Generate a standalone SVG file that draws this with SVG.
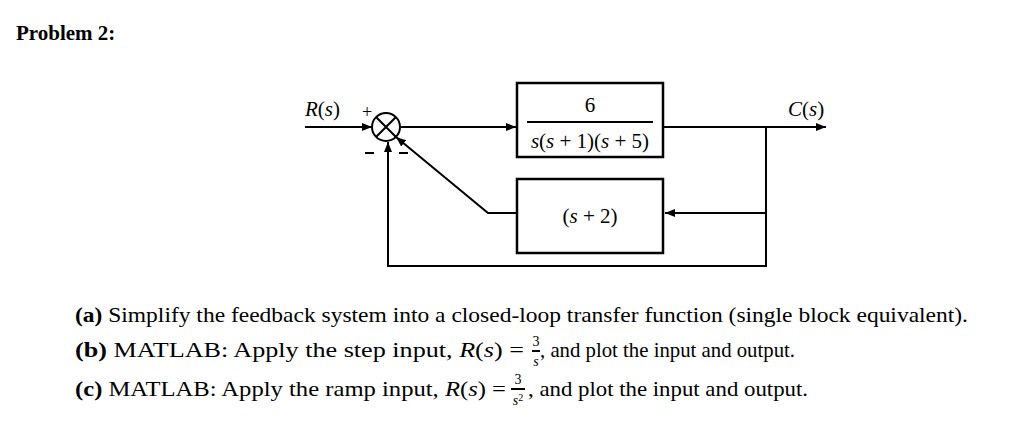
<svg xmlns="http://www.w3.org/2000/svg" width="1021" height="431" viewBox="0 0 1021 431">
<style>
.t{font-family:"Liberation Serif",serif;fill:#000}
.ln{stroke:#000;stroke-width:2;fill:none}
.bx{stroke:#000;stroke-width:2.5;fill:#fff}
</style>
<defs><marker id="a" viewBox="0 0 10 8" refX="10" refY="4" markerWidth="10" markerHeight="8" markerUnits="userSpaceOnUse" orient="auto"><path d="M0,0L10,4L0,8z"/></marker></defs>
<rect width="1021" height="431" fill="#fff"/>
<text class="t" x="16" y="40" font-size="21" font-weight="bold">Problem 2:</text>
<g id="connectors">
<path class="ln" d="M305,127H372" marker-end="url(#a)"/>
<path class="ln" d="M400,127H516" marker-end="url(#a)"/>
<path class="ln" d="M663,127H826" marker-end="url(#a)"/>
<path class="ln" d="M766,127V213H665" marker-end="url(#a)"/>
<path class="ln" d="M517,213H488L396,137" marker-end="url(#a)"/>
<path class="ln" d="M766,213V266H388V142" marker-end="url(#a)"/>
</g>
<g id="sum">
<circle cx="386" cy="127" r="14" fill="#fff" stroke="#000" stroke-width="2"/>
<path class="ln" d="M376,117L396,137M396,117L376,137" stroke-width="1.5"/>
<text class="t" x="362" y="118" font-size="18">+</text>
<path class="ln" d="M365,153H374M399,153H408" stroke-width="1.5"/>
</g>
<g id="g1">
<rect class="bx" x="517" y="83" width="146" height="74"/>
<text class="t" x="590" y="112" font-size="21" text-anchor="middle">6</text>
<path class="ln" d="M527,122H653" stroke-width="1.5"/>
<text class="t" x="590" y="148" font-size="21" text-anchor="middle"><tspan font-style="italic">s</tspan>(<tspan font-style="italic">s</tspan> + 1)(<tspan font-style="italic">s</tspan> + 5)</text>
</g>
<g id="h">
<rect class="bx" x="517" y="179" width="146" height="74"/>
<text class="t" x="590" y="223" font-size="21" text-anchor="middle">(<tspan font-style="italic">s</tspan> + 2)</text>
</g>
<text class="t" x="305" y="116" font-size="21" font-style="italic">R<tspan font-style="normal">(</tspan>s<tspan font-style="normal">)</tspan></text>
<text class="t" x="788" y="116" font-size="21" font-style="italic">C<tspan font-style="normal">(</tspan>s<tspan font-style="normal">)</tspan></text>
<text class="t" x="75" y="322" font-size="22" textLength="893" lengthAdjust="spacingAndGlyphs"><tspan font-weight="bold">(a)</tspan> Simplify the feedback system into a closed-loop transfer function (single block equivalent).</text>
<text class="t" x="75" y="357" font-size="22" textLength="449" lengthAdjust="spacingAndGlyphs"><tspan font-weight="bold">(b)</tspan> MATLAB: Apply the step input, <tspan font-style="italic">R</tspan>(<tspan font-style="italic">s</tspan>) =</text>
<text class="t" x="536" y="346" font-size="14" text-anchor="middle">3</text>
<path class="ln" d="M532,351H540" stroke-width="1.2"/>
<text class="t" x="536" y="366" font-size="14" font-style="italic" text-anchor="middle">s</text>
<text class="t" x="540" y="357" font-size="22" textLength="255" lengthAdjust="spacingAndGlyphs">, and plot the input and output.</text>
<text class="t" x="75" y="396" font-size="22" textLength="431" lengthAdjust="spacingAndGlyphs"><tspan font-weight="bold">(c)</tspan> MATLAB: Apply the ramp input, <tspan font-style="italic">R</tspan>(<tspan font-style="italic">s</tspan>) =</text>
<text class="t" x="518" y="384" font-size="14" text-anchor="middle">3</text>
<path class="ln" d="M511,389H525" stroke-width="1.2"/>
<text class="t" x="518" y="405" font-size="14" font-style="italic" text-anchor="middle">s<tspan font-style="normal" font-size="10" dy="-4">2</tspan></text>
<text class="t" x="528" y="396" font-size="22" textLength="280" lengthAdjust="spacingAndGlyphs">, and plot the input and output.</text>
</svg>
